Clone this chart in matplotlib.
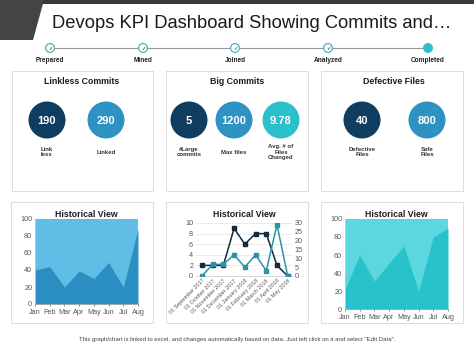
import matplotlib
matplotlib.use("Agg")
import matplotlib.pyplot as plt
from matplotlib.patches import Rectangle, Circle, Polygon

plt.rcParams["font.family"] = ["Liberation Sans", "DejaVu Sans"]

W, H = 474, 355

# ---- data ----
steps = ["Prepared", "Mined", "Joined", "Analyzed", "Completed"]

linkless_vals = ["190", "290"]
linkless_labels = ["Link\nless", "Linked"]
big_vals = ["5", "1200", "9.78"]
big_labels = ["#Large\ncommits", "Max files", "Avg. # of\nFiles\nChanged"]
defect_vals = ["40", "800"]
defect_labels = ["Defective\nFiles", "Safe\nFiles"]

months = ["Jan", "Feb", "Mar", "Apr", "May", "Jun", "Jul", "Aug"]
hist1_back = [100, 100, 100, 100, 100, 100, 100, 100]
hist1_front = [40, 44, 20, 39, 30, 49, 20, 88]
hist3_back = [100, 100, 100, 100, 100, 100, 100, 100]
hist3_front = [22, 60, 31, 51, 70, 20, 80, 90]

dates = ["01 September 2017", "01 October 2017", "01 November 2017",
         "01 December 2017", "01 January 2018", "01 February 2018",
         "01 March 2018", "01 April 2018", "01 May 2018"]
line_left = [2, 2, 2, 9, 6, 8, 8, 2, 0]
line_right = [0, 6.6, 6.6, 12, 5, 12, 3, 29, 0]

DARK = "#0e3d5f"
MID = "#2e93c2"
TEAL = "#2cc0ca"
GREY_TXT = "#595959"

fig = plt.figure(figsize=(W / 100, H / 100), dpi=100)
fig.patch.set_facecolor("white")

ov = fig.add_axes([0, 0, 1, 1])
ov.set_xlim(0, W); ov.set_ylim(H, 0); ov.axis("off")


def px_axes(x0, y0, x1, y1):
    return fig.add_axes([x0 / W, 1 - y1 / H, (x1 - x0) / W, (y1 - y0) / H])


# header band
ov.add_patch(Rectangle((0, 0), W, 3.5, color="#3a3a3a", lw=0))
ov.add_patch(Polygon([(0, 0), (44, 0), (33, 40), (0, 40)], closed=True, color="#444444", lw=0))
ov.text(252, 23, "Devops KPI Dashboard Showing Commits and\u2026", ha="center", va="center",
        fontsize=13.2, color="#1a1a1a")

# progress steps
step_x = [50, 143, 235, 328, 428]
ov.plot([step_x[0], step_x[-1]], [48, 48], color="#9a9a9a", lw=0.8, zorder=1)
for i, (sx, lab) in enumerate(zip(step_x, steps)):
    if i == len(steps) - 1:
        ov.add_patch(Circle((sx, 48), 4.4, facecolor="#2bbfc9", edgecolor="#2bbfc9", lw=0.8, zorder=2))
    else:
        ov.add_patch(Circle((sx, 48), 4.4, facecolor="white", edgecolor="#3aaab5", lw=0.8, zorder=2))
        ov.text(sx, 48.3, "\u2713", ha="center", va="center", fontsize=4,
                family="DejaVu Sans", color="#333333", zorder=3)
    ov.text(sx, 61, lab, ha="center", va="center", fontsize=4.7, fontweight="bold", color="#222222")

# panel boxes
for (x0, y0, x1, y1) in [(12, 71, 153, 191), (166, 71, 308, 191), (321, 71, 463, 191),
                         (11, 202, 153, 323), (166, 202, 308, 323), (321, 202, 463, 323)]:
    ov.add_patch(Rectangle((x0 + 1, y0 + 1), x1 - x0, y1 - y0, facecolor="#ececec", lw=0))
    ov.add_patch(Rectangle((x0, y0), x1 - x0, y1 - y0, facecolor="white", edgecolor="#dddddd", lw=0.7))

# KPI circles
def kpi_group(title, tx, xs, vals, labels, colors):
    ov.text(tx, 81, title, ha="center", va="center", fontsize=6.3, fontweight="bold", color="#1a1a1a")
    for x, v, lab, c in zip(xs, vals, labels, colors):
        ov.add_patch(Circle((x, 120), 18.5, color=c, lw=0))
        ov.text(x, 120.5, v, ha="center", va="center", fontsize=8, fontweight="bold", color="white")
        ov.text(x, 152, lab, ha="center", va="center", fontsize=4.3, fontweight="bold",
                color="#333333", linespacing=1.1)


kpi_group("Linkless Commits", 82, [47, 106], linkless_vals, linkless_labels, [DARK, MID])
kpi_group("Big Commits", 237, [189, 234, 281], big_vals, big_labels, [DARK, MID, TEAL])
kpi_group("Defective Files", 394, [362, 427], defect_vals, defect_labels, [DARK, MID])


def style_area(ax, title_y):
    ax.set_xlim(0, 7); ax.set_ylim(0, 100)
    ax.set_yticks(range(0, 101, 20))
    ax.set_xticks(range(len(months)))
    ax.set_xticklabels(months)
    ax.tick_params(labelsize=5.2, colors=GREY_TXT, length=1.5, width=0.5, pad=2)
    ax.tick_params(axis="y", length=0)
    for s in ["top", "right"]:
        ax.spines[s].set_visible(False)
    ax.spines["left"].set_color("#d0d0d0"); ax.spines["left"].set_linewidth(0.5)
    ax.spines["bottom"].set_color("#a0a0a0"); ax.spines["bottom"].set_linewidth(0.5)
    ax.set_title("Historical View", fontsize=6.3, fontweight="bold", color="#1a1a1a", pad=title_y)


x = list(range(len(months)))
ax1 = px_axes(35, 219, 138, 304)
ax1.fill_between(x, 0, hist1_back, color="#5fbde6", lw=0)
ax1.fill_between(x, 0, hist1_front, color="#2b8fc2", lw=0)
style_area(ax1, 1.5)

ax3 = px_axes(345, 219, 448, 309)
ax3.fill_between(x, 0, hist3_back, color="#5dd7df", lw=0)
ax3.fill_between(x, 0, hist3_front, color="#27c2ca", lw=0)
style_area(ax3, 1.5)

# line chart with two axes
ax2 = px_axes(196, 223, 292, 276)
xi = list(range(len(dates)))
ax2.plot(xi, line_left, color="#0f2c40", lw=1.1, marker="s", ms=2.2, zorder=3)
ax2.set_ylim(0, 10); ax2.set_yticks(range(0, 11, 2))
ax2.set_xlim(-0.55, 8.4)
ax2.set_xticks(xi)
ax2.set_xticklabels(dates, rotation=45, ha="right", rotation_mode="anchor", fontsize=3.9, color=GREY_TXT)
ax2.tick_params(axis="y", labelsize=5.2, colors=GREY_TXT, length=0, pad=2)
ax2.tick_params(axis="x", length=0, pad=1.5)
ax2.grid(axis="y", color="#e3e3e3", lw=0.5)
ax2.set_axisbelow(True)
for s in ["top", "right", "left"]:
    ax2.spines[s].set_visible(False)
ax2.spines["bottom"].set_color("#c8c8c8"); ax2.spines["bottom"].set_linewidth(0.5)
ax2.set_title("Historical View", fontsize=6.3, fontweight="bold", color="#1a1a1a", pad=4)

ax2b = ax2.twinx()
ax2b.plot(xi, line_right, color="#2a93a8", lw=1.1, marker="s", ms=2.2, zorder=3)
ax2b.set_ylim(0, 30); ax2b.set_yticks(range(0, 31, 5))
ax2b.tick_params(axis="y", labelsize=5.2, colors=GREY_TXT, length=0, pad=2)
for s in ["top", "right", "left", "bottom"]:
    ax2b.spines[s].set_visible(False)

ov.text(237, 340, "This graph/chart is linked to excel, and changes automatically based on data. "
        "Just left click on it and select \"Edit Data\".", ha="center", va="center",
        fontsize=4.3, color="#444444")

fig.savefig("out.png", dpi=100)
